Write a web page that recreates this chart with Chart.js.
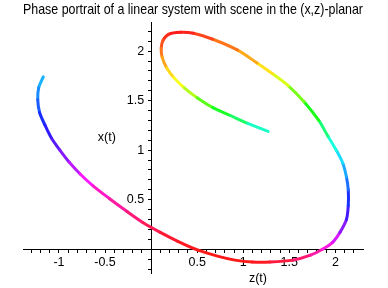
<!DOCTYPE html>
<html>
<head>
<meta charset="utf-8">
<script src="https://cdn.jsdelivr.net/npm/chart.js@4.4.1/dist/chart.umd.min.js"></script>
<style>
  html, body { margin: 0; padding: 0; background: #fff; }
  #wrap { width: 388px; height: 288px; }
</style>
</head>
<body>
<div id="wrap"><canvas id="phase"></canvas></div>
<script>
const TITLE = "Phase portrait of a linear system with scene in the (x,z)-planar";
const FONT = "'Liberation Sans', Arial, sans-serif";

// trajectory: horizontal is z(t), vertical is x(t)
const zValues = [-1.17, -1.22, -1.23, -1.21, -1.15, -1.08, -0.99, -0.89, -0.77, -0.63,
  -0.45, -0.26, -0.09, 0.10, 0.29, 0.51, 0.72, 0.91, 1.10, 1.29,
  1.54, 1.73, 1.86, 1.97, 2.05, 2.12, 2.14, 2.14, 2.12, 2.08,
  2.01, 1.92, 1.82, 1.66, 1.49, 1.32, 1.15, 0.94, 0.67, 0.46,
  0.32, 0.19, 0.13, 0.11, 0.12, 0.17, 0.25, 0.36, 0.50, 0.67,
  0.86, 1.05, 1.27];
const xValues = [1.74, 1.63, 1.51, 1.38, 1.25, 1.12, 1.00, 0.88, 0.76, 0.64,
  0.51, 0.38, 0.27, 0.17, 0.08, -0.01, -0.07, -0.11, -0.13, -0.13,
  -0.11, -0.06, 0.00, 0.07, 0.17, 0.30, 0.44, 0.60, 0.73, 0.87,
  1.00, 1.14, 1.30, 1.49, 1.65, 1.77, 1.88, 2.01, 2.12, 2.18,
  2.19, 2.17, 2.11, 2.03, 1.94, 1.83, 1.73, 1.63, 1.53, 1.43,
  1.35, 1.27, 1.19];
// hue (degrees) of the rainbow colouring at each point
const hues = [195, 205, 215, 230, 240, 250, 262, 275, 290, 308,
  320, 330, 340, 350, 356, 360, 360, 360, 360, 355,
  345, 330, 315, 300, 280, 260, 242, 225, 210, 195,
  183, 160, 130, 110, 80, 60, 45, 30, 18, 5,
  0, 0, 10, 20, 28, 45, 55, 70, 90, 115,
  130, 150, 180];

const zRange = [-1.39, 2.30];
const xRange = [-0.24, 2.29];
const zTickLabels = [-1, -0.5, 0.5, 1, 1.5, 2];
const xTickLabels = [0.5, 1, 1.5, 2];
const MINOR_STEP = 0.1;

function hueColor(h) {
  return `hsl(${h}, 100%, 55%)`;
}

function minorTicks(range) {
  const ticks = [];
  const first = Math.ceil(range[0] / MINOR_STEP);
  const last = Math.floor(range[1] / MINOR_STEP);
  for (let i = first; i <= last; i += 1) {
    ticks.push({ value: Math.round(i * MINOR_STEP * 10) / 10 });
  }
  return ticks;
}

// suffix: the centred y axis ignores ticks.padding, so trailing spaces keep labels off the line
function labelOnly(labels, suffix) {
  return (value) => {
    const v = Math.round(value * 10) / 10;
    return labels.includes(v) ? String(v) + suffix : "";
  };
}

const axisLabels = {
  id: "axisLabels",
  afterDraw(chart) {
    const { ctx, scales } = chart;
    ctx.save();
    ctx.font = `12.5px ${FONT}`;
    ctx.fillStyle = "#000";
    ctx.textAlign = "center";
    ctx.textBaseline = "middle";
    ctx.fillText("x(t)", scales.x.getPixelForValue(-0.48), scales.y.getPixelForValue(1.13));
    ctx.fillText("z(t)", scales.x.getPixelForValue(1.16), scales.y.getPixelForValue(-0.30));
    ctx.restore();
  },
};

function axisOptions(range, labels, where, suffix) {
  return {
    type: "linear",
    min: range[0],
    max: range[1],
    position: where,
    afterBuildTicks: (axis) => { axis.ticks = minorTicks(range); },
    grid: { drawOnChartArea: false, drawTicks: true, tickLength: 3, color: "#000" },
    border: { display: true, color: "#000", width: 1 },
    ticks: {
      autoSkip: false,
      maxRotation: 0,
      padding: 3,
      color: "#000",
      font: { family: FONT, size: 12.5 },
      callback: labelOnly(labels, suffix),
    },
  };
}

const points = zValues.map((z, i) => ({ x: z, y: xValues[i] }));

new Chart(document.getElementById("phase"), {
  type: "scatter",
  data: {
    datasets: [{
      data: points,
      showLine: true,
      borderWidth: 3,
      pointRadius: 0,
      tension: 0.3,
      borderCapStyle: "round",
      borderColor: hueColor(hues[0]),
      segment: {
        borderColor: (ctx) => hueColor((hues[ctx.p0DataIndex] + hues[ctx.p1DataIndex]) / 2),
      },
    }],
  },
  options: {
    responsive: true,
    maintainAspectRatio: false,
    animation: false,
    layout: { padding: { left: 23, right: 25, bottom: 15, top: 0 } },
    scales: {
      x: axisOptions(zRange, zTickLabels, { y: 0 }, ""),
      y: axisOptions(xRange, xTickLabels, { x: 0 }, "  "),
    },
    plugins: {
      legend: { display: false },
      tooltip: { enabled: false },
      title: {
        display: true,
        text: TITLE,
        color: "#000",
        font: { family: FONT, size: 14.5, weight: "normal" },
        padding: { top: 1, bottom: 4 },
      },
    },
  },
  plugins: [axisLabels],
});
</script>
</body>
</html>
